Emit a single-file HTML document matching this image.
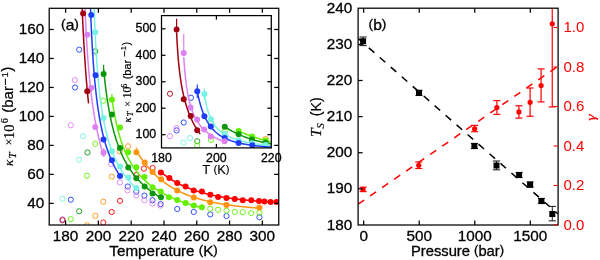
<!DOCTYPE html>
<html><head><meta charset="utf-8"><style>html,body{margin:0;padding:0;background:#fff;width:600px;height:260px;overflow:hidden}svg{display:block;will-change:transform}</style></head><body>
<svg width="600" height="260" viewBox="0 0 600 260">
<defs>
<clipPath id="cm"><rect x="49.20" y="8.30" width="229.55" height="216.70"/></clipPath>
<clipPath id="ci"><rect x="161.50" y="15.60" width="109.80" height="132.30"/></clipPath>
<clipPath id="cb"><rect x="358.10" y="8.20" width="200.00" height="216.80"/></clipPath>
</defs>
<rect width="600" height="260" fill="#fff"/>
<circle cx="79.20" cy="49.70" r="2.60" fill="none" stroke="#1e3cfa" stroke-width="0.90" clip-path="url(#cm)"/>
<circle cx="75.00" cy="87.50" r="2.60" fill="none" stroke="#1e3cfa" stroke-width="0.90" clip-path="url(#cm)"/>
<circle cx="127.80" cy="186.50" r="2.60" fill="none" stroke="#1e3cfa" stroke-width="0.90" clip-path="url(#cm)"/>
<circle cx="136.30" cy="191.70" r="2.60" fill="none" stroke="#1e3cfa" stroke-width="0.90" clip-path="url(#cm)"/>
<circle cx="144.40" cy="195.60" r="2.60" fill="none" stroke="#1e3cfa" stroke-width="0.90" clip-path="url(#cm)"/>
<circle cx="152.50" cy="200.25" r="2.60" fill="none" stroke="#1e3cfa" stroke-width="0.90" clip-path="url(#cm)"/>
<circle cx="160.60" cy="204.00" r="2.60" fill="none" stroke="#1e3cfa" stroke-width="0.90" clip-path="url(#cm)"/>
<circle cx="177.25" cy="209.00" r="2.60" fill="none" stroke="#1e3cfa" stroke-width="0.90" clip-path="url(#cm)"/>
<circle cx="193.75" cy="211.90" r="2.60" fill="none" stroke="#1e3cfa" stroke-width="0.90" clip-path="url(#cm)"/>
<circle cx="210.25" cy="214.40" r="2.60" fill="none" stroke="#1e3cfa" stroke-width="0.90" clip-path="url(#cm)"/>
<circle cx="226.50" cy="216.00" r="2.60" fill="none" stroke="#1e3cfa" stroke-width="0.90" clip-path="url(#cm)"/>
<circle cx="259.40" cy="217.25" r="2.60" fill="none" stroke="#1e3cfa" stroke-width="0.90" clip-path="url(#cm)"/>
<circle cx="70.80" cy="199.70" r="2.60" fill="none" stroke="#1e3cfa" stroke-width="0.90" clip-path="url(#cm)"/>
<circle cx="74.80" cy="80.00" r="2.60" fill="none" stroke="#dd80f2" stroke-width="0.90" clip-path="url(#cm)"/>
<circle cx="70.80" cy="125.30" r="2.60" fill="none" stroke="#dd80f2" stroke-width="0.90" clip-path="url(#cm)"/>
<circle cx="111.25" cy="164.00" r="2.60" fill="none" stroke="#dd80f2" stroke-width="0.90" clip-path="url(#cm)"/>
<circle cx="119.90" cy="182.40" r="2.60" fill="none" stroke="#dd80f2" stroke-width="0.90" clip-path="url(#cm)"/>
<circle cx="127.50" cy="190.30" r="2.60" fill="none" stroke="#dd80f2" stroke-width="0.90" clip-path="url(#cm)"/>
<circle cx="136.30" cy="195.30" r="2.60" fill="none" stroke="#dd80f2" stroke-width="0.90" clip-path="url(#cm)"/>
<circle cx="144.40" cy="200.25" r="2.60" fill="none" stroke="#dd80f2" stroke-width="0.90" clip-path="url(#cm)"/>
<circle cx="152.50" cy="203.50" r="2.60" fill="none" stroke="#dd80f2" stroke-width="0.90" clip-path="url(#cm)"/>
<circle cx="160.60" cy="205.60" r="2.60" fill="none" stroke="#dd80f2" stroke-width="0.90" clip-path="url(#cm)"/>
<circle cx="62.50" cy="219.20" r="2.60" fill="none" stroke="#dd80f2" stroke-width="0.90" clip-path="url(#cm)"/>
<circle cx="83.00" cy="136.20" r="2.60" fill="none" stroke="#78f2e2" stroke-width="0.90" clip-path="url(#cm)"/>
<circle cx="79.10" cy="159.70" r="2.60" fill="none" stroke="#78f2e2" stroke-width="0.90" clip-path="url(#cm)"/>
<circle cx="62.50" cy="198.70" r="2.60" fill="none" stroke="#78f2e2" stroke-width="0.90" clip-path="url(#cm)"/>
<circle cx="103.30" cy="100.80" r="2.60" fill="none" stroke="#62f000" stroke-width="0.90" clip-path="url(#cm)"/>
<circle cx="95.30" cy="143.80" r="2.60" fill="none" stroke="#62f000" stroke-width="0.90" clip-path="url(#cm)"/>
<circle cx="87.00" cy="175.70" r="2.60" fill="none" stroke="#62f000" stroke-width="0.90" clip-path="url(#cm)"/>
<circle cx="70.80" cy="219.20" r="2.60" fill="none" stroke="#62f000" stroke-width="0.90" clip-path="url(#cm)"/>
<circle cx="210.25" cy="208.75" r="2.60" fill="none" stroke="#62f000" stroke-width="0.90" clip-path="url(#cm)"/>
<circle cx="218.10" cy="209.75" r="2.60" fill="none" stroke="#62f000" stroke-width="0.90" clip-path="url(#cm)"/>
<circle cx="226.50" cy="210.60" r="2.60" fill="none" stroke="#62f000" stroke-width="0.90" clip-path="url(#cm)"/>
<circle cx="234.75" cy="211.90" r="2.60" fill="none" stroke="#62f000" stroke-width="0.90" clip-path="url(#cm)"/>
<circle cx="242.75" cy="212.25" r="2.60" fill="none" stroke="#62f000" stroke-width="0.90" clip-path="url(#cm)"/>
<circle cx="251.25" cy="213.10" r="2.60" fill="none" stroke="#62f000" stroke-width="0.90" clip-path="url(#cm)"/>
<circle cx="259.40" cy="212.75" r="2.60" fill="none" stroke="#62f000" stroke-width="0.90" clip-path="url(#cm)"/>
<circle cx="95.30" cy="51.30" r="2.60" fill="none" stroke="#0c960c" stroke-width="0.90" clip-path="url(#cm)"/>
<circle cx="87.50" cy="152.50" r="2.60" fill="none" stroke="#0c960c" stroke-width="0.90" clip-path="url(#cm)"/>
<circle cx="79.20" cy="211.30" r="2.60" fill="none" stroke="#0c960c" stroke-width="0.90" clip-path="url(#cm)"/>
<circle cx="128.00" cy="146.30" r="2.60" fill="none" stroke="#ff930f" stroke-width="0.90" clip-path="url(#cm)"/>
<circle cx="119.70" cy="151.30" r="2.60" fill="none" stroke="#ff930f" stroke-width="0.90" clip-path="url(#cm)"/>
<circle cx="111.80" cy="176.60" r="2.60" fill="none" stroke="#ff930f" stroke-width="0.90" clip-path="url(#cm)"/>
<circle cx="103.30" cy="201.70" r="2.60" fill="none" stroke="#ff930f" stroke-width="0.90" clip-path="url(#cm)"/>
<circle cx="95.30" cy="215.80" r="2.60" fill="none" stroke="#ff930f" stroke-width="0.90" clip-path="url(#cm)"/>
<circle cx="87.00" cy="225.30" r="2.60" fill="none" stroke="#ff930f" stroke-width="0.90" clip-path="url(#cm)"/>
<circle cx="143.90" cy="168.60" r="2.60" fill="none" stroke="#ff0000" stroke-width="0.90" clip-path="url(#cm)"/>
<circle cx="152.60" cy="168.00" r="2.60" fill="none" stroke="#ff0000" stroke-width="0.90" clip-path="url(#cm)"/>
<circle cx="136.30" cy="175.00" r="2.60" fill="none" stroke="#ff0000" stroke-width="0.90" clip-path="url(#cm)"/>
<circle cx="120.00" cy="200.80" r="2.60" fill="none" stroke="#ff0000" stroke-width="0.90" clip-path="url(#cm)"/>
<circle cx="111.70" cy="212.00" r="2.60" fill="none" stroke="#ff0000" stroke-width="0.90" clip-path="url(#cm)"/>
<circle cx="103.30" cy="222.50" r="2.60" fill="none" stroke="#ff0000" stroke-width="0.90" clip-path="url(#cm)"/>
<circle cx="62.50" cy="220.20" r="2.60" fill="none" stroke="#a0000f" stroke-width="0.90" clip-path="url(#cm)"/>
<path d="M160.90,172.03 L161.50,172.53 L162.09,173.01 L162.69,173.49 L163.29,173.96 L163.89,174.43 L164.48,174.88 L165.08,175.33 L165.68,175.77 L166.28,176.20 L166.87,176.63 L167.47,177.04 L168.07,177.45 L168.67,177.86 L169.26,178.26 L169.86,178.65 L170.46,179.03 L171.06,179.41 L171.65,179.78 L172.25,180.15 L172.85,180.51 L173.45,180.86 L174.04,181.21 L174.64,181.55 L175.24,181.89 L175.84,182.22 L176.43,182.55 L177.03,182.87 L177.63,183.19 L178.23,183.50 L178.82,183.80 L179.42,184.10 L180.02,184.40 L180.62,184.69 L181.21,184.98 L181.81,185.26 L182.41,185.54 L183.01,185.81 L183.60,186.08 L184.20,186.34 L184.80,186.60 L185.40,186.86 L185.99,187.11 L186.59,187.36 L187.19,187.61 L187.79,187.85 L188.38,188.08 L188.98,188.32 L189.58,188.55 L190.17,188.77 L190.77,189.00 L191.37,189.21 L191.97,189.43 L192.56,189.64 L193.16,189.85 L193.76,190.06 L194.36,190.26 L194.95,190.46 L195.55,190.66 L196.15,190.85 L196.75,191.04 L197.34,191.23 L197.94,191.41 L198.54,191.60 L199.14,191.77 L199.73,191.95 L200.33,192.13 L200.93,192.30 L201.53,192.47 L202.12,192.63 L202.72,192.80 L203.32,192.96 L203.92,193.12 L204.51,193.27 L205.11,193.43 L205.71,193.58 L206.31,193.73 L206.90,193.87 L207.50,194.02 L208.10,194.16 L208.70,194.30 L209.29,194.44 L209.89,194.58 L210.49,194.71 L211.09,194.85 L211.68,194.98 L212.28,195.11 L212.88,195.23 L213.48,195.36 L214.07,195.48 L214.67,195.61 L215.27,195.73 L215.87,195.84 L216.46,195.96 L217.06,196.07 L217.66,196.19 L218.26,196.30 L218.85,196.41 L219.45,196.52 L220.05,196.62 L220.64,196.73 L221.24,196.83 L221.84,196.94 L222.44,197.04 L223.03,197.14 L223.63,197.23 L224.23,197.33 L224.83,197.43 L225.42,197.52 L226.02,197.61 L226.62,197.70 L227.22,197.79 L227.81,197.88 L228.41,197.97 L229.01,198.06 L229.61,198.14 L230.20,198.23 L230.80,198.31 L231.40,198.39 L232.00,198.47 L232.59,198.55 L233.19,198.63 L233.79,198.71 L234.39,198.78 L234.98,198.86 L235.58,198.93 L236.18,199.00 L236.78,199.08 L237.37,199.15 L237.97,199.22 L238.57,199.29 L239.17,199.36 L239.76,199.42 L240.36,199.49 L240.96,199.55 L241.56,199.62 L242.15,199.68 L242.75,199.75 L243.35,199.81 L243.95,199.87 L244.54,199.93 L245.14,199.99 L245.74,200.05 L246.34,200.11 L246.93,200.16 L247.53,200.22 L248.13,200.28 L249.02,200.36 L249.92,200.44 L250.82,200.52 L251.71,200.59 L252.61,200.67 L253.50,200.75 L254.40,200.82 L255.30,200.89 L256.19,200.96 L257.09,201.03 L257.99,201.10 L258.88,201.16 L259.78,201.23 L260.67,201.29 L261.57,201.35 L262.47,201.41 L263.36,201.47 L264.26,201.53 L265.15,201.59 L266.05,201.65 L266.95,201.70 L267.84,201.76 L268.74,201.81 L269.64,201.86 L270.53,201.92 L271.43,201.97 L272.32,202.02 L273.22,202.06 L274.12,202.11 L275.01,202.16 L275.91,202.21 L276.80,202.25 L277.70,202.29 L278.60,202.34 L279.49,202.38 L280.39,202.42" fill="none" stroke="#ff0000" stroke-width="1.50" stroke-linejoin="round" clip-path="url(#cm)"/>
<circle cx="160.90" cy="172.40" r="3.00" fill="#ff0000" clip-path="url(#cm)"/>
<circle cx="169.40" cy="178.10" r="3.00" fill="#ff0000" clip-path="url(#cm)"/>
<circle cx="177.25" cy="183.10" r="3.00" fill="#ff0000" clip-path="url(#cm)"/>
<circle cx="185.60" cy="186.50" r="3.00" fill="#ff0000" clip-path="url(#cm)"/>
<circle cx="193.75" cy="190.40" r="3.00" fill="#ff0000" clip-path="url(#cm)"/>
<circle cx="201.90" cy="191.60" r="3.00" fill="#ff0000" clip-path="url(#cm)"/>
<circle cx="210.30" cy="194.70" r="3.00" fill="#ff0000" clip-path="url(#cm)"/>
<circle cx="218.10" cy="196.90" r="3.00" fill="#ff0000" clip-path="url(#cm)"/>
<circle cx="226.50" cy="198.10" r="3.00" fill="#ff0000" clip-path="url(#cm)"/>
<circle cx="234.75" cy="199.00" r="3.00" fill="#ff0000" clip-path="url(#cm)"/>
<circle cx="242.75" cy="200.25" r="3.00" fill="#ff0000" clip-path="url(#cm)"/>
<circle cx="251.25" cy="200.25" r="3.00" fill="#ff0000" clip-path="url(#cm)"/>
<circle cx="259.00" cy="201.00" r="3.00" fill="#ff0000" clip-path="url(#cm)"/>
<circle cx="264.40" cy="201.50" r="3.00" fill="#ff0000" clip-path="url(#cm)"/>
<circle cx="270.60" cy="201.90" r="3.00" fill="#ff0000" clip-path="url(#cm)"/>
<circle cx="276.50" cy="201.90" r="3.00" fill="#ff0000" clip-path="url(#cm)"/>
<path d="M136.40,150.91 L137.01,151.93 L137.63,152.92 L138.25,153.90 L138.86,154.86 L139.47,155.80 L140.09,156.72 L140.70,157.63 L141.32,158.52 L141.93,159.39 L142.55,160.25 L143.17,161.09 L143.78,161.91 L144.40,162.72 L145.01,163.52 L145.62,164.30 L146.24,165.07 L146.86,165.82 L147.47,166.56 L148.08,167.28 L148.70,168.00 L149.32,168.70 L149.93,169.39 L150.55,170.06 L151.16,170.72 L151.78,171.37 L152.39,172.01 L153.00,172.64 L153.62,173.26 L154.24,173.87 L154.85,174.46 L155.46,175.05 L156.08,175.62 L156.70,176.19 L157.31,176.74 L157.93,177.29 L158.54,177.82 L159.16,178.35 L159.77,178.86 L160.39,179.37 L161.00,179.87 L161.62,180.36 L162.23,180.84 L162.85,181.32 L163.46,181.78 L164.07,182.24 L164.69,182.69 L165.31,183.13 L165.92,183.57 L166.53,183.99 L167.15,184.41 L167.77,184.83 L168.38,185.23 L169.00,185.63 L169.61,186.02 L170.23,186.41 L170.84,186.79 L171.46,187.16 L172.07,187.53 L172.69,187.89 L173.30,188.24 L173.91,188.59 L174.53,188.93 L175.15,189.27 L175.76,189.60 L176.38,189.93 L176.99,190.25 L177.61,190.56 L178.22,190.88 L178.84,191.18 L179.45,191.48 L180.06,191.78 L180.68,192.07 L181.30,192.35 L181.91,192.63 L182.52,192.91 L183.14,193.18 L183.76,193.45 L184.37,193.71 L184.99,193.97 L185.60,194.23 L186.22,194.48 L186.83,194.72 L187.44,194.97 L188.06,195.21 L188.68,195.44 L189.29,195.67 L189.91,195.90 L190.52,196.12 L191.14,196.35 L191.75,196.56 L192.37,196.78 L192.98,196.99 L193.59,197.19 L194.21,197.40 L194.83,197.60 L195.44,197.80 L196.06,197.99 L196.67,198.18 L197.28,198.37 L197.90,198.56 L198.52,198.74 L199.13,198.92 L199.75,199.10 L200.36,199.27 L200.98,199.44 L201.59,199.61 L202.20,199.78 L202.82,199.94 L203.44,200.10 L204.05,200.26 L204.67,200.42 L205.28,200.57 L205.90,200.72 L206.51,200.87 L207.13,201.02 L207.74,201.17 L208.36,201.31 L208.97,201.45 L209.59,201.59 L210.20,201.73 L210.81,201.86 L211.43,201.99 L212.05,202.12 L212.66,202.25 L213.28,202.38 L213.89,202.50 L214.51,202.63 L215.12,202.75 L215.74,202.87 L216.35,202.98 L216.97,203.10 L217.58,203.21 L218.20,203.33 L218.81,203.44 L219.43,203.55 L220.04,203.66 L220.65,203.76 L221.27,203.87 L221.89,203.97 L222.50,204.07 L223.12,204.17 L223.73,204.27 L224.35,204.37 L224.96,204.46 L225.58,204.56 L226.19,204.65 L226.81,204.74 L227.42,204.83 L228.04,204.92 L228.65,205.01 L229.26,205.10 L229.88,205.18 L230.50,205.27 L231.11,205.35 L231.73,205.43 L232.34,205.51 L232.96,205.59 L233.57,205.67 L234.19,205.75 L234.80,205.82 L235.42,205.90 L236.03,205.97 L236.65,206.05 L237.26,206.12 L237.88,206.19 L238.49,206.26 L239.11,206.33 L239.72,206.40 L240.34,206.46 L240.95,206.53 L241.57,206.60 L242.18,206.66 L242.80,206.72 L243.41,206.79 L244.03,206.85 L244.64,206.91 L245.26,206.97 L245.87,207.03 L246.49,207.09 L247.10,207.15 L247.72,207.20 L248.33,207.26 L248.95,207.31 L249.56,207.37 L250.18,207.42 L250.79,207.48 L251.41,207.53 L252.02,207.58 L252.64,207.63 L253.25,207.68 L253.87,207.73 L254.48,207.78 L255.10,207.83 L255.71,207.88 L256.33,207.93 L256.94,207.97 L257.56,208.02 L258.17,208.06 L258.79,208.11 L259.40,208.15" fill="none" stroke="#ff930f" stroke-width="1.50" stroke-linejoin="round" clip-path="url(#cm)"/>
<line x1="136.40" y1="147.50" x2="136.40" y2="152.30" stroke="#ff930f" stroke-width="1.20" clip-path="url(#cm)"/>
<circle cx="136.40" cy="152.30" r="3.00" fill="#ff930f" clip-path="url(#cm)"/>
<circle cx="144.70" cy="162.40" r="3.00" fill="#ff930f" clip-path="url(#cm)"/>
<circle cx="152.60" cy="172.00" r="3.00" fill="#ff930f" clip-path="url(#cm)"/>
<circle cx="161.20" cy="179.30" r="3.00" fill="#ff930f" clip-path="url(#cm)"/>
<circle cx="177.25" cy="190.50" r="3.00" fill="#ff930f" clip-path="url(#cm)"/>
<circle cx="193.75" cy="197.50" r="3.00" fill="#ff930f" clip-path="url(#cm)"/>
<circle cx="210.25" cy="202.25" r="3.00" fill="#ff930f" clip-path="url(#cm)"/>
<circle cx="226.50" cy="205.00" r="3.00" fill="#ff930f" clip-path="url(#cm)"/>
<circle cx="259.40" cy="207.50" r="3.00" fill="#ff930f" clip-path="url(#cm)"/>
<path d="M111.90,98.18 L112.12,99.78 L112.35,101.33 L112.58,102.84 L112.80,104.31 L113.03,105.75 L113.25,107.15 L113.48,108.51 L113.70,109.84 L113.93,111.14 L114.15,112.41 L114.38,113.64 L114.60,114.85 L114.83,116.03 L115.05,117.19 L115.28,118.31 L115.50,119.42 L115.73,120.50 L115.95,121.55 L116.18,122.59 L116.40,123.60 L116.63,124.59 L116.85,125.57 L117.08,126.52 L117.30,127.45 L117.53,128.37 L117.75,129.27 L117.97,130.15 L118.20,131.01 L118.43,131.86 L118.65,132.69 L118.87,133.51 L119.10,134.31 L119.33,135.10 L119.55,135.87 L119.77,136.63 L120.00,137.38 L120.23,138.12 L120.45,138.84 L120.67,139.55 L120.90,140.25 L121.13,140.93 L121.35,141.61 L121.57,142.28 L121.80,142.93 L122.03,143.57 L122.25,144.21 L122.47,144.83 L122.70,145.45 L122.93,146.05 L123.15,146.65 L123.38,147.24 L123.60,147.82 L123.83,148.39 L124.05,148.95 L124.50,150.05 L124.95,151.12 L125.40,152.16 L125.85,153.17 L126.30,154.16 L126.75,155.12 L127.20,156.05 L127.65,156.96 L128.10,157.85 L128.55,158.72 L129.00,159.56 L129.45,160.39 L129.90,161.20 L130.35,161.98 L130.80,162.75 L131.25,163.50 L131.70,164.24 L132.15,164.96 L132.60,165.66 L133.05,166.35 L133.50,167.02 L133.95,167.68 L134.40,168.33 L134.85,168.96 L135.30,169.58 L135.75,170.19 L136.20,170.79 L136.65,171.38 L137.10,171.95 L137.55,172.51 L138.00,173.06 L138.45,173.61 L138.90,174.14 L139.35,174.66 L139.80,175.18 L140.25,175.68 L140.70,176.18 L141.15,176.66 L141.60,177.14 L142.05,177.61 L142.50,178.08 L142.95,178.53 L143.40,178.98 L143.85,179.42 L144.30,179.85 L144.75,180.28 L145.20,180.70 L145.65,181.11 L146.10,181.52 L146.55,181.92 L147.23,182.51 L147.90,183.09 L148.57,183.65 L149.25,184.20 L149.92,184.74 L150.60,185.27 L151.27,185.79 L151.95,186.30 L152.62,186.79 L153.30,187.28 L153.97,187.76 L154.65,188.22 L155.32,188.68 L156.00,189.13 L156.68,189.57 L157.35,190.01 L158.02,190.43 L158.70,190.85 L159.38,191.26 L160.05,191.66 L160.72,192.06 L161.40,192.44 L162.07,192.83 L162.75,193.20 L163.42,193.57 L164.10,193.93 L164.77,194.29 L165.45,194.64 L166.12,194.98 L166.80,195.32 L167.47,195.66 L168.15,195.99 L168.82,196.31 L169.50,196.63 L170.17,196.94 L170.85,197.25 L171.53,197.56 L172.20,197.85 L172.88,198.15 L173.55,198.44 L174.22,198.73 L174.90,199.01 L175.57,199.29 L176.25,199.56 L176.92,199.83 L177.60,200.10 L178.27,200.36 L178.95,200.62 L179.62,200.88 L180.30,201.13 L180.97,201.38 L181.65,201.63 L182.32,201.87 L183.00,202.11 L183.68,202.35 L184.35,202.58 L185.02,202.81 L185.70,203.04 L186.38,203.27 L187.05,203.49 L187.72,203.71 L188.40,203.92 L189.07,204.14 L189.75,204.35 L190.43,204.56 L191.10,204.77 L191.78,204.97 L192.45,205.17 L193.12,205.37 L193.80,205.57 L194.47,205.76 L195.15,205.96 L195.82,206.15 L196.50,206.33 L197.18,206.52 L197.85,206.71 L198.52,206.89 L199.20,207.07 L199.88,207.25 L200.55,207.42 L201.23,207.60 L201.90,207.77" fill="none" stroke="#62f000" stroke-width="1.50" stroke-linejoin="round" clip-path="url(#cm)"/>
<line x1="111.90" y1="94.00" x2="111.90" y2="99.75" stroke="#62f000" stroke-width="1.20" clip-path="url(#cm)"/>
<circle cx="111.90" cy="99.75" r="3.00" fill="#62f000" clip-path="url(#cm)"/>
<circle cx="120.00" cy="127.50" r="3.00" fill="#62f000" clip-path="url(#cm)"/>
<circle cx="128.10" cy="152.30" r="3.00" fill="#62f000" clip-path="url(#cm)"/>
<circle cx="136.25" cy="167.20" r="3.00" fill="#62f000" clip-path="url(#cm)"/>
<circle cx="144.50" cy="177.10" r="3.00" fill="#62f000" clip-path="url(#cm)"/>
<circle cx="152.50" cy="187.25" r="3.00" fill="#62f000" clip-path="url(#cm)"/>
<circle cx="160.70" cy="191.60" r="3.00" fill="#62f000" clip-path="url(#cm)"/>
<circle cx="169.00" cy="197.25" r="3.00" fill="#62f000" clip-path="url(#cm)"/>
<circle cx="177.25" cy="200.00" r="3.00" fill="#62f000" clip-path="url(#cm)"/>
<circle cx="185.60" cy="203.10" r="3.00" fill="#62f000" clip-path="url(#cm)"/>
<circle cx="193.75" cy="205.60" r="3.00" fill="#62f000" clip-path="url(#cm)"/>
<circle cx="201.90" cy="207.25" r="3.00" fill="#62f000" clip-path="url(#cm)"/>
<path d="M103.60,68.96 L103.74,70.44 L103.89,71.90 L104.03,73.33 L104.17,74.73 L104.32,76.10 L104.46,77.44 L104.60,78.76 L104.75,80.06 L104.89,81.33 L105.03,82.58 L105.18,83.80 L105.32,85.00 L105.47,86.18 L105.61,87.34 L105.75,88.48 L105.90,89.61 L106.04,90.71 L106.18,91.79 L106.33,92.85 L106.47,93.90 L106.61,94.93 L106.76,95.94 L106.90,96.94 L107.04,97.92 L107.19,98.89 L107.33,99.84 L107.47,100.78 L107.62,101.70 L107.76,102.61 L107.90,103.50 L108.05,104.38 L108.19,105.25 L108.34,106.11 L108.48,106.95 L108.62,107.78 L108.77,108.60 L108.91,109.41 L109.05,110.21 L109.20,110.99 L109.34,111.77 L109.48,112.53 L109.63,113.29 L109.77,114.03 L109.91,114.77 L110.06,115.49 L110.20,116.21 L110.34,116.91 L110.49,117.61 L110.63,118.30 L110.77,118.98 L110.92,119.65 L111.06,120.31 L111.21,120.97 L111.35,121.62 L111.49,122.25 L111.64,122.89 L111.78,123.51 L111.92,124.13 L112.07,124.74 L112.21,125.34 L112.35,125.93 L112.50,126.52 L112.78,127.68 L113.07,128.81 L113.36,129.92 L113.64,131.00 L113.93,132.06 L114.22,133.09 L114.51,134.11 L114.79,135.10 L115.08,136.08 L115.37,137.03 L115.65,137.97 L115.94,138.88 L116.23,139.78 L116.52,140.67 L116.80,141.53 L117.09,142.38 L117.38,143.21 L117.66,144.03 L117.95,144.84 L118.24,145.63 L118.52,146.40 L118.81,147.16 L119.10,147.91 L119.38,148.65 L119.67,149.37 L119.96,150.08 L120.25,150.78 L120.53,151.47 L120.82,152.15 L121.11,152.82 L121.39,153.47 L121.68,154.12 L121.97,154.75 L122.25,155.38 L122.54,156.00 L122.83,156.60 L123.12,157.20 L123.40,157.79 L123.69,158.37 L123.98,158.94 L124.26,159.51 L124.55,160.06 L124.84,160.61 L125.12,161.15 L125.41,161.68 L125.84,162.47 L126.27,163.24 L126.70,163.99 L127.13,164.73 L127.56,165.45 L127.99,166.17 L128.43,166.86 L128.86,167.55 L129.29,168.22 L129.72,168.88 L130.15,169.52 L130.58,170.16 L131.01,170.78 L131.44,171.39 L131.87,172.00 L132.30,172.59 L132.73,173.17 L133.16,173.74 L133.59,174.30 L134.02,174.86 L134.45,175.40 L134.88,175.94 L135.31,176.46 L135.74,176.98 L136.17,177.49 L136.60,177.99 L137.04,178.49 L137.47,178.97 L137.90,179.45 L138.33,179.93 L138.76,180.39 L139.19,180.85 L139.62,181.30 L140.05,181.75 L140.48,182.19 L140.91,182.62 L141.34,183.05 L141.77,183.47 L142.34,184.02 L142.92,184.56 L143.49,185.09 L144.07,185.62 L144.64,186.13 L145.21,186.63 L145.79,187.13 L146.36,187.62 L146.94,188.10 L147.51,188.57 L148.08,189.03 L148.66,189.49 L149.23,189.94 L149.81,190.38 L150.38,190.82 L150.95,191.24 L151.53,191.67 L152.10,192.08 L152.68,192.49 L153.25,192.89 L153.82,193.29 L154.40,193.68 L154.97,194.06 L155.55,194.44 L156.12,194.82 L156.69,195.19 L157.27,195.55 L157.84,195.91 L158.42,196.26 L158.99,196.61 L159.56,196.96 L160.14,197.29 L160.71,197.63 L161.00,197.79" fill="none" stroke="#0c960c" stroke-width="1.50" stroke-linejoin="round" clip-path="url(#cm)"/>
<line x1="103.60" y1="64.70" x2="103.60" y2="74.10" stroke="#0c960c" stroke-width="1.20" clip-path="url(#cm)"/>
<circle cx="103.60" cy="74.10" r="3.00" fill="#0c960c" clip-path="url(#cm)"/>
<circle cx="111.90" cy="114.50" r="3.00" fill="#0c960c" clip-path="url(#cm)"/>
<circle cx="120.00" cy="148.10" r="3.00" fill="#0c960c" clip-path="url(#cm)"/>
<circle cx="128.30" cy="167.50" r="3.00" fill="#0c960c" clip-path="url(#cm)"/>
<circle cx="136.30" cy="178.20" r="3.00" fill="#0c960c" clip-path="url(#cm)"/>
<circle cx="144.70" cy="186.60" r="3.00" fill="#0c960c" clip-path="url(#cm)"/>
<circle cx="152.50" cy="193.60" r="3.00" fill="#0c960c" clip-path="url(#cm)"/>
<circle cx="161.00" cy="197.20" r="3.00" fill="#0c960c" clip-path="url(#cm)"/>
<path d="M81.99,-50.00 L82.67,-50.00 L83.35,-50.00 L84.03,-50.00 L84.71,-50.00 L85.39,-50.00 L86.07,-50.00 L86.74,-50.00 L87.42,-50.00 L88.10,-50.00 L88.78,-50.00 L89.46,-50.00 L90.14,-50.00 L90.82,-50.00 L91.50,-50.00 L92.18,-50.00 L92.85,-45.39 L92.99,-38.33 L93.13,-31.76 L93.26,-25.62 L93.40,-19.86 L93.53,-14.44 L93.67,-9.34 L93.80,-4.51 L93.94,0.05 L94.08,4.39 L94.21,8.51 L94.35,12.44 L94.48,16.18 L94.62,19.76 L94.76,23.18 L94.89,26.46 L95.03,29.61 L95.16,32.63 L95.30,35.53 L95.43,38.33 L95.57,41.02 L95.71,43.62 L95.84,46.12 L95.98,48.54 L96.11,50.89 L96.25,53.15 L96.38,55.35 L96.52,57.47 L96.66,59.53 L96.79,61.53 L96.93,63.48 L97.06,65.36 L97.20,67.20 L97.33,68.98 L97.47,70.72 L97.61,72.41 L97.74,74.06 L97.88,75.66 L98.01,77.23 L98.15,78.75 L98.28,80.24 L98.42,81.70 L98.56,83.12 L98.69,84.51 L98.83,85.87 L98.96,87.19 L99.10,88.49 L99.24,89.76 L99.37,91.00 L99.51,92.22 L99.64,93.41 L99.78,94.58 L99.91,95.72 L100.05,96.85 L100.19,97.95 L100.32,99.03 L100.46,100.08 L100.59,101.12 L100.73,102.14 L100.86,103.14 L101.00,104.13 L101.14,105.09 L101.27,106.04 L101.41,106.97 L101.54,107.89 L101.68,108.79 L101.81,109.68 L101.95,110.55 L102.09,111.40 L102.22,112.25 L102.36,113.08 L102.49,113.89 L102.63,114.70 L102.77,115.49 L102.90,116.27 L103.04,117.04 L103.17,117.79 L103.31,118.54 L103.44,119.27 L103.58,120.00 L103.72,120.71 L103.85,121.41 L103.99,122.11 L104.12,122.79 L104.26,123.46 L104.39,124.13 L104.53,124.78 L104.67,125.43 L104.80,126.07 L104.94,126.70 L105.07,127.32 L105.21,127.94 L105.34,128.54 L105.48,129.14 L105.62,129.73 L105.89,130.89 L106.16,132.02 L106.43,133.13 L106.70,134.21 L106.97,135.26 L107.25,136.29 L107.52,137.30 L107.79,138.28 L108.06,139.25 L108.33,140.19 L108.60,141.11 L108.87,142.02 L109.15,142.90 L109.42,143.77 L109.69,144.62 L109.96,145.46 L110.23,146.27 L110.50,147.07 L110.78,147.86 L111.05,148.63 L111.32,149.39 L111.59,150.14 L111.86,150.87 L112.13,151.59 L112.40,152.29 L112.68,152.99 L112.95,153.67 L113.22,154.34 L113.49,155.00 L113.76,155.65 L114.03,156.29 L114.31,156.91 L114.58,157.53 L114.85,158.14 L115.12,158.74 L115.39,159.33 L115.66,159.91 L115.93,160.48 L116.21,161.04 L116.48,161.60 L116.75,162.15 L117.02,162.68 L117.43,163.48 L117.84,164.26 L118.24,165.02 L118.65,165.77 L119.06,166.50 L119.46,167.21 L119.87,167.92 L120.28,168.60 L120.69,169.28 L121.09,169.94 L121.50,170.60 L121.91,171.23 L122.32,171.86 L122.72,172.48 L123.13,173.08 L123.54,173.68 L123.95,174.26 L124.35,174.84 L124.76,175.41 L125.17,175.96 L125.57,176.51 L125.98,177.05 L126.39,177.58 L126.80,178.10 L127.20,178.61 L127.61,179.11 L128.02,179.61 L128.43,180.10 L128.83,180.58 L129.24,181.06 L129.65,181.53 L130.05,181.99 L130.46,182.44 L130.87,182.89 L131.28,183.33 L131.82,183.91 L132.36,184.48 L132.91,185.04 L133.45,185.59 L133.99,186.13 L134.54,186.66 L135.08,187.18 L135.62,187.69 L136.16,188.20 L136.30,188.32" fill="none" stroke="#78f2e2" stroke-width="1.50" stroke-linejoin="round" clip-path="url(#cm)"/>
<circle cx="95.25" cy="32.30" r="3.00" fill="#78f2e2" clip-path="url(#cm)"/>
<circle cx="103.60" cy="117.90" r="3.00" fill="#78f2e2" clip-path="url(#cm)"/>
<circle cx="111.90" cy="151.20" r="3.00" fill="#78f2e2" clip-path="url(#cm)"/>
<circle cx="120.10" cy="166.40" r="3.00" fill="#78f2e2" clip-path="url(#cm)"/>
<circle cx="128.40" cy="177.40" r="3.00" fill="#78f2e2" clip-path="url(#cm)"/>
<circle cx="136.30" cy="188.00" r="3.00" fill="#78f2e2" clip-path="url(#cm)"/>
<path d="M79.53,-50.00 L80.14,-50.00 L80.75,-50.00 L81.35,-50.00 L81.96,-50.00 L82.57,-50.00 L83.18,-50.00 L83.78,-50.00 L84.39,-50.00 L85.00,-50.00 L85.60,-50.00 L86.21,-50.00 L86.82,-50.00 L87.42,-50.00 L88.03,-50.00 L88.64,-50.00 L88.94,-47.99 L89.04,-43.23 L89.14,-38.68 L89.25,-34.31 L89.35,-30.12 L89.45,-26.08 L89.55,-22.21 L89.65,-18.47 L89.75,-14.87 L89.85,-11.40 L89.95,-8.04 L90.05,-4.80 L90.16,-1.66 L90.26,1.37 L90.36,4.31 L90.46,7.16 L90.56,9.92 L90.66,12.60 L90.76,15.20 L90.86,17.72 L90.97,20.18 L91.07,22.57 L91.17,24.89 L91.27,27.15 L91.37,29.35 L91.47,31.50 L91.57,33.59 L91.67,35.63 L91.77,37.62 L91.88,39.56 L91.98,41.46 L92.08,43.31 L92.18,45.12 L92.28,46.89 L92.38,48.61 L92.48,50.31 L92.58,51.96 L92.69,53.58 L92.79,55.16 L92.89,56.71 L92.99,58.23 L93.09,59.72 L93.19,61.18 L93.29,62.61 L93.39,64.01 L93.49,65.39 L93.60,66.74 L93.70,68.06 L93.80,69.36 L93.90,70.64 L94.00,71.89 L94.10,73.12 L94.20,74.33 L94.30,75.51 L94.40,76.68 L94.51,77.83 L94.61,78.96 L94.71,80.06 L94.81,81.15 L94.91,82.23 L95.01,83.28 L95.11,84.32 L95.21,85.34 L95.32,86.35 L95.42,87.34 L95.52,88.31 L95.62,89.27 L95.72,90.22 L95.82,91.15 L95.92,92.07 L96.02,92.97 L96.12,93.87 L96.23,94.74 L96.33,95.61 L96.43,96.46 L96.53,97.31 L96.63,98.14 L96.73,98.96 L96.83,99.76 L96.93,100.56 L97.04,101.35 L97.14,102.12 L97.24,102.89 L97.34,103.65 L97.44,104.39 L97.54,105.13 L97.64,105.86 L97.74,106.57 L97.84,107.28 L97.95,107.98 L98.05,108.68 L98.15,109.36 L98.25,110.03 L98.35,110.70 L98.45,111.36 L98.55,112.01 L98.65,112.66 L98.76,113.29 L98.86,113.92 L98.96,114.54 L99.06,115.16 L99.16,115.77 L99.26,116.37 L99.36,116.96 L99.56,118.13 L99.77,119.27 L99.97,120.39 L100.17,121.49 L100.37,122.56 L100.58,123.61 L100.78,124.64 L100.98,125.65 L101.18,126.64 L101.39,127.61 L101.59,128.56 L101.79,129.50 L101.99,130.41 L102.19,131.31 L102.40,132.20 L102.60,133.06 L102.80,133.92 L103.00,134.75 L103.21,135.57 L103.41,136.38 L103.61,137.18 L103.81,137.96 L104.02,138.72 L104.22,139.48 L104.42,140.22 L104.62,140.95 L104.83,141.67 L105.03,142.38 L105.23,143.08 L105.43,143.76 L105.63,144.44 L105.84,145.10 L106.04,145.76 L106.24,146.40 L106.44,147.04 L106.65,147.67 L106.85,148.28 L107.05,148.89 L107.25,149.49 L107.46,150.08 L107.66,150.67 L107.86,151.24 L108.06,151.81 L108.37,152.65 L108.67,153.47 L108.97,154.27 L109.28,155.06 L109.58,155.83 L109.88,156.59 L110.19,157.34 L110.49,158.07 L110.79,158.78 L111.10,159.49 L111.40,160.18 L111.70,160.86 L112.01,161.53 L112.31,162.18 L112.61,162.83 L112.92,163.46 L113.22,164.08 L113.53,164.70 L113.83,165.30 L114.13,165.89 L114.44,166.48 L114.74,167.05 L115.04,167.62 L115.35,168.17 L115.65,168.72 L115.95,169.26 L116.26,169.79 L116.56,170.32 L116.97,171.00 L117.37,171.68 L117.77,172.34 L118.18,172.98 L118.58,173.62 L118.99,174.24 L119.39,174.86 L119.80,175.46 L120.00,175.75" fill="none" stroke="#1e3cfa" stroke-width="1.50" stroke-linejoin="round" clip-path="url(#cm)"/>
<circle cx="91.25" cy="15.00" r="3.00" fill="#1e3cfa" clip-path="url(#cm)"/>
<circle cx="95.60" cy="75.20" r="3.00" fill="#1e3cfa" clip-path="url(#cm)"/>
<circle cx="103.50" cy="139.40" r="3.00" fill="#1e3cfa" clip-path="url(#cm)"/>
<circle cx="111.90" cy="160.20" r="3.00" fill="#1e3cfa" clip-path="url(#cm)"/>
<circle cx="120.00" cy="176.00" r="3.00" fill="#1e3cfa" clip-path="url(#cm)"/>
<path d="M73.79,-50.00 L74.46,-50.00 L75.13,-50.00 L75.80,-50.00 L76.47,-50.00 L77.14,-50.00 L77.80,-50.00 L78.47,-50.00 L79.14,-50.00 L79.81,-50.00 L80.48,-50.00 L81.15,-50.00 L81.82,-50.00 L82.48,-50.00 L83.15,-50.00 L83.37,-47.94 L83.45,-44.48 L83.52,-41.14 L83.60,-37.93 L83.67,-34.82 L83.75,-31.82 L83.82,-28.91 L83.89,-26.10 L83.97,-23.37 L84.04,-20.73 L84.12,-18.16 L84.19,-15.66 L84.27,-13.23 L84.34,-10.87 L84.41,-8.57 L84.49,-6.33 L84.56,-4.15 L84.64,-2.02 L84.71,0.05 L84.79,2.08 L84.86,4.06 L84.93,5.99 L85.01,7.88 L85.08,9.73 L85.16,11.54 L85.23,13.31 L85.31,15.04 L85.38,16.74 L85.45,18.41 L85.53,20.04 L85.60,21.63 L85.68,23.20 L85.75,24.74 L85.83,26.25 L85.90,27.73 L85.97,29.19 L86.05,30.62 L86.12,32.02 L86.20,33.40 L86.27,34.76 L86.35,36.09 L86.42,37.40 L86.49,38.69 L86.57,39.96 L86.64,41.21 L86.72,42.44 L86.79,43.65 L86.86,44.84 L86.94,46.02 L87.01,47.17 L87.09,48.31 L87.16,49.44 L87.24,50.55 L87.31,51.64 L87.38,52.71 L87.46,53.77 L87.53,54.82 L87.61,55.85 L87.68,56.87 L87.76,57.88 L87.83,58.87 L87.90,59.85 L87.98,60.82 L88.05,61.77 L88.13,62.72 L88.20,63.65 L88.28,64.57 L88.35,65.47 L88.42,66.37 L88.50,67.26 L88.57,68.14 L88.65,69.00 L88.72,69.86 L88.80,70.71 L88.87,71.54 L88.94,72.37 L89.02,73.19 L89.09,74.00 L89.17,74.80 L89.24,75.59 L89.32,76.37 L89.39,77.15 L89.46,77.92 L89.54,78.67 L89.61,79.43 L89.69,80.17 L89.76,80.90 L89.84,81.63 L89.91,82.35 L89.98,83.07 L90.06,83.78 L90.13,84.48 L90.21,85.17 L90.28,85.86 L90.36,86.54 L90.43,87.21 L90.50,87.88 L90.58,88.54 L90.65,89.19 L90.73,89.84 L90.80,90.49 L90.88,91.12 L90.95,91.75 L91.02,92.38 L91.10,93.00 L91.17,93.62 L91.25,94.23 L91.32,94.83 L91.40,95.43 L91.54,96.61 L91.69,97.78 L91.84,98.92 L91.99,100.05 L92.14,101.16 L92.29,102.25 L92.43,103.32 L92.58,104.38 L92.73,105.42 L92.88,106.45 L93.03,107.46 L93.18,108.46 L93.33,109.44 L93.47,110.40 L93.62,111.36 L93.77,112.30 L93.92,113.23 L94.07,114.14 L94.22,115.04 L94.37,115.93 L94.51,116.81 L94.66,117.68 L94.81,118.54 L94.96,119.38 L95.11,120.22 L95.26,121.04 L95.41,121.86 L95.55,122.66 L95.70,123.46 L95.85,124.24 L96.00,125.02 L96.15,125.78 L96.30,126.54 L96.44,127.29 L96.59,128.03 L96.74,128.76 L96.89,129.49 L97.04,130.20 L97.19,130.91 L97.34,131.61 L97.48,132.31 L97.63,132.99 L97.78,133.67 L97.93,134.34 L98.08,135.01 L98.23,135.66 L98.38,136.31 L98.52,136.96 L98.67,137.60 L98.82,138.23 L98.97,138.85 L99.12,139.47 L99.27,140.08 L99.42,140.69 L99.56,141.29 L99.71,141.89 L99.86,142.48 L100.01,143.06 L100.23,143.93 L100.46,144.78 L100.68,145.63 L100.90,146.46 L101.12,147.28 L101.35,148.09 L101.57,148.89 L101.79,149.68 L102.01,150.46 L102.24,151.23 L102.46,151.99 L102.68,152.74 L102.91,153.48 L103.13,154.21 L103.35,154.94 L103.50,155.42" fill="none" stroke="#dd80f2" stroke-width="1.50" stroke-linejoin="round" clip-path="url(#cm)"/>
<line x1="103.80" y1="148.00" x2="103.80" y2="157.00" stroke="#dd80f2" stroke-width="1.20" clip-path="url(#cm)"/>
<circle cx="87.25" cy="34.75" r="3.00" fill="#dd80f2" clip-path="url(#cm)"/>
<circle cx="91.25" cy="88.10" r="3.00" fill="#dd80f2" clip-path="url(#cm)"/>
<circle cx="95.25" cy="126.90" r="3.00" fill="#dd80f2" clip-path="url(#cm)"/>
<circle cx="103.50" cy="152.75" r="3.00" fill="#dd80f2" clip-path="url(#cm)"/>
<path d="M74.78,-50.00 L75.40,-50.00 L76.02,-50.00 L76.64,-50.00 L77.26,-50.00 L77.88,-50.00 L78.50,-50.00 L79.12,-50.00 L79.74,-50.00 L80.05,-49.42 L80.08,-48.28 L80.12,-47.14 L80.15,-46.01 L80.18,-44.88 L80.22,-43.77 L80.25,-42.66 L80.29,-41.56 L80.32,-40.46 L80.36,-39.38 L80.39,-38.30 L80.43,-37.22 L80.46,-36.16 L80.49,-35.10 L80.53,-34.04 L80.56,-33.00 L80.60,-31.96 L80.63,-30.93 L80.67,-29.90 L80.70,-28.88 L80.74,-27.87 L80.77,-26.86 L80.80,-25.86 L80.84,-24.87 L80.87,-23.88 L80.91,-22.90 L80.94,-21.92 L80.98,-20.95 L81.01,-19.99 L81.05,-19.03 L81.08,-18.08 L81.11,-17.13 L81.15,-16.19 L81.18,-15.26 L81.22,-14.33 L81.25,-13.41 L81.29,-12.49 L81.32,-11.58 L81.36,-10.67 L81.39,-9.77 L81.42,-8.88 L81.46,-7.99 L81.49,-7.10 L81.53,-6.22 L81.56,-5.35 L81.60,-4.48 L81.63,-3.62 L81.66,-2.76 L81.70,-1.91 L81.73,-1.06 L81.77,-0.21 L81.80,0.62 L81.84,1.46 L81.87,2.29 L81.91,3.11 L81.94,3.93 L81.97,4.74 L82.01,5.55 L82.04,6.36 L82.08,7.16 L82.11,7.95 L82.15,8.75 L82.18,9.53 L82.22,10.31 L82.25,11.09 L82.28,11.86 L82.32,12.63 L82.35,13.40 L82.39,14.16 L82.42,14.91 L82.46,15.67 L82.49,16.41 L82.53,17.16 L82.56,17.90 L82.59,18.63 L82.63,19.36 L82.66,20.09 L82.70,20.81 L82.73,21.53 L82.77,22.24 L82.80,22.96 L82.84,23.66 L82.87,24.37 L82.90,25.07 L82.94,25.76 L82.97,26.45 L83.01,27.14 L83.04,27.83 L83.08,28.51 L83.11,29.18 L83.15,29.86 L83.18,30.53 L83.21,31.19 L83.25,31.85 L83.28,32.51 L83.32,33.17 L83.35,33.82 L83.39,34.47 L83.42,35.11 L83.46,35.76 L83.49,36.39 L83.52,37.03 L83.56,37.66 L83.59,38.29 L83.63,38.91 L83.66,39.54 L83.70,40.15 L83.73,40.77 L83.77,41.38 L83.80,41.99 L83.83,42.60 L83.87,43.20 L83.90,43.80 L83.97,44.99 L84.04,46.17 L84.11,47.33 L84.18,48.49 L84.25,49.63 L84.32,50.76 L84.39,51.88 L84.45,52.99 L84.52,54.09 L84.59,55.18 L84.66,56.25 L84.73,57.32 L84.80,58.37 L84.87,59.42 L84.94,60.45 L85.00,61.48 L85.07,62.49 L85.14,63.50 L85.21,64.50 L85.28,65.48 L85.35,66.46 L85.42,67.43 L85.49,68.39 L85.56,69.34 L85.62,70.28 L85.69,71.21 L85.76,72.13 L85.83,73.05 L85.90,73.96 L85.97,74.85 L86.04,75.74 L86.11,76.63 L86.18,77.50 L86.24,78.37 L86.31,79.23 L86.38,80.08 L86.45,80.92 L86.52,81.76 L86.59,82.58 L86.66,83.41 L86.73,84.22 L86.80,85.03 L86.86,85.83 L86.93,86.62 L87.00,87.40 L87.07,88.18 L87.14,88.96 L87.21,89.72 L87.28,90.48 L87.35,91.23 L87.42,91.98 L87.48,92.72 L87.55,93.45 L87.62,94.18 L87.69,94.90 L87.76,95.62 L87.83,96.33 L87.90,97.03 L87.97,97.73 L88.03,98.42 L88.10,99.11 L88.17,99.79 L88.24,100.47 L88.31,101.14 L88.38,101.80 L88.45,102.46 L88.52,103.11 L88.55,103.44" fill="none" stroke="#a0000f" stroke-width="1.50" stroke-linejoin="round" clip-path="url(#cm)"/>
<circle cx="83.10" cy="13.50" r="3.00" fill="#a0000f" clip-path="url(#cm)"/>
<circle cx="87.25" cy="91.30" r="3.00" fill="#a0000f" clip-path="url(#cm)"/>
<g stroke="#000000" stroke-width="1.25" fill="none">
<rect x="49.20" y="8.30" width="229.55" height="216.70"/>
<line x1="65.60" y1="225.00" x2="65.60" y2="220.50"/>
<line x1="65.60" y1="8.30" x2="65.60" y2="12.80"/>
<line x1="98.39" y1="225.00" x2="98.39" y2="220.50"/>
<line x1="98.39" y1="8.30" x2="98.39" y2="12.80"/>
<line x1="131.18" y1="225.00" x2="131.18" y2="220.50"/>
<line x1="131.18" y1="8.30" x2="131.18" y2="12.80"/>
<line x1="163.98" y1="225.00" x2="163.98" y2="220.50"/>
<line x1="163.98" y1="8.30" x2="163.98" y2="12.80"/>
<line x1="196.77" y1="225.00" x2="196.77" y2="220.50"/>
<line x1="196.77" y1="8.30" x2="196.77" y2="12.80"/>
<line x1="229.56" y1="225.00" x2="229.56" y2="220.50"/>
<line x1="229.56" y1="8.30" x2="229.56" y2="12.80"/>
<line x1="262.35" y1="225.00" x2="262.35" y2="220.50"/>
<line x1="262.35" y1="8.30" x2="262.35" y2="12.80"/>
<line x1="49.20" y1="203.37" x2="53.70" y2="203.37"/>
<line x1="278.75" y1="203.37" x2="274.25" y2="203.37"/>
<line x1="49.20" y1="174.38" x2="53.70" y2="174.38"/>
<line x1="278.75" y1="174.38" x2="274.25" y2="174.38"/>
<line x1="49.20" y1="145.40" x2="53.70" y2="145.40"/>
<line x1="278.75" y1="145.40" x2="274.25" y2="145.40"/>
<line x1="49.20" y1="116.42" x2="53.70" y2="116.42"/>
<line x1="278.75" y1="116.42" x2="274.25" y2="116.42"/>
<line x1="49.20" y1="87.44" x2="53.70" y2="87.44"/>
<line x1="278.75" y1="87.44" x2="274.25" y2="87.44"/>
<line x1="49.20" y1="58.46" x2="53.70" y2="58.46"/>
<line x1="278.75" y1="58.46" x2="274.25" y2="58.46"/>
<line x1="49.20" y1="29.48" x2="53.70" y2="29.48"/>
<line x1="278.75" y1="29.48" x2="274.25" y2="29.48"/>
</g>
<rect x="161.50" y="15.60" width="109.80" height="132.30" fill="#fff"/>
<circle cx="170.00" cy="93.75" r="2.60" fill="none" stroke="#a0000f" stroke-width="0.90" clip-path="url(#ci)"/>
<circle cx="191.00" cy="97.75" r="2.60" fill="none" stroke="#1e3cfa" stroke-width="0.90" clip-path="url(#ci)"/>
<circle cx="183.75" cy="122.50" r="2.60" fill="none" stroke="#1e3cfa" stroke-width="0.90" clip-path="url(#ci)"/>
<circle cx="176.60" cy="130.40" r="2.60" fill="none" stroke="#1e3cfa" stroke-width="0.90" clip-path="url(#ci)"/>
<circle cx="176.50" cy="128.00" r="2.60" fill="none" stroke="#dd80f2" stroke-width="0.90" clip-path="url(#ci)"/>
<circle cx="170.00" cy="136.20" r="2.60" fill="none" stroke="#dd80f2" stroke-width="0.90" clip-path="url(#ci)"/>
<circle cx="183.50" cy="142.75" r="2.60" fill="none" stroke="#78f2e2" stroke-width="0.90" clip-path="url(#ci)"/>
<circle cx="190.00" cy="138.10" r="2.60" fill="none" stroke="#78f2e2" stroke-width="0.90" clip-path="url(#ci)"/>
<circle cx="197.25" cy="141.25" r="2.60" fill="none" stroke="#0c960c" stroke-width="0.90" clip-path="url(#ci)"/>
<circle cx="197.25" cy="145.60" r="2.60" fill="none" stroke="#62f000" stroke-width="0.90" clip-path="url(#ci)"/>
<circle cx="211.00" cy="123.00" r="2.60" fill="none" stroke="#62f000" stroke-width="0.90" clip-path="url(#ci)"/>
<circle cx="211.00" cy="139.90" r="2.60" fill="none" stroke="#62f000" stroke-width="0.90" clip-path="url(#ci)"/>
<circle cx="224.75" cy="131.00" r="2.60" fill="none" stroke="#62f000" stroke-width="0.90" clip-path="url(#ci)"/>
<circle cx="265.60" cy="139.00" r="2.60" fill="none" stroke="#ff930f" stroke-width="0.90" clip-path="url(#ci)"/>
<path d="M238.60,131.00 L239.20,131.27 L239.79,131.54 L240.39,131.80 L240.99,132.06 L241.58,132.32 L242.18,132.57 L242.77,132.82 L243.37,133.07 L243.97,133.32 L244.56,133.56 L245.16,133.80 L245.76,134.04 L246.35,134.27 L246.95,134.50 L247.54,134.73 L248.14,134.96 L248.74,135.18 L249.33,135.40 L249.93,135.62 L250.53,135.84 L251.12,136.05 L251.72,136.27 L252.31,136.47 L252.91,136.68 L253.51,136.89 L254.10,137.09 L254.70,137.29 L255.30,137.49 L255.89,137.68 L256.49,137.88 L257.08,138.07 L257.68,138.26 L258.28,138.45 L258.87,138.63 L259.47,138.82 L260.07,139.00 L260.66,139.18 L261.26,139.36 L261.85,139.53 L262.45,139.71 L263.05,139.88 L263.64,140.05 L264.24,140.22 L264.84,140.39 L265.43,140.55 L266.03,140.72 L266.62,140.88 L267.22,141.04 L267.82,141.20 L268.41,141.36 L269.01,141.51 L269.61,141.67 L270.20,141.82 L270.80,141.97 L271.39,142.12 L271.99,142.27 L272.59,142.42 L272.67,142.44" fill="none" stroke="#62f000" stroke-width="1.50" stroke-linejoin="round" clip-path="url(#ci)"/>
<circle cx="238.60" cy="131.00" r="3.00" fill="#62f000" clip-path="url(#ci)"/>
<circle cx="252.10" cy="136.40" r="3.00" fill="#62f000" clip-path="url(#ci)"/>
<circle cx="265.60" cy="140.60" r="3.00" fill="#62f000" clip-path="url(#ci)"/>
<path d="M224.75,126.65 L225.35,127.05 L225.95,127.45 L226.55,127.84 L227.15,128.22 L227.75,128.60 L228.34,128.97 L228.94,129.33 L229.54,129.69 L230.14,130.04 L230.74,130.39 L231.34,130.72 L231.94,131.06 L232.54,131.38 L233.14,131.70 L233.74,132.02 L234.33,132.33 L234.93,132.63 L235.53,132.93 L236.13,133.23 L236.73,133.52 L237.33,133.80 L237.93,134.08 L238.53,134.35 L239.13,134.62 L239.73,134.89 L240.32,135.15 L240.92,135.40 L241.52,135.65 L242.12,135.90 L242.72,136.14 L243.32,136.38 L243.92,136.61 L244.52,136.84 L245.12,137.07 L245.72,137.29 L246.32,137.51 L246.91,137.73 L247.51,137.94 L248.11,138.15 L248.71,138.35 L249.31,138.55 L249.91,138.75 L250.51,138.94 L251.11,139.13 L251.71,139.32 L252.31,139.50 L252.90,139.68 L253.50,139.86 L254.10,140.04 L254.70,140.21 L255.30,140.38 L255.90,140.55 L256.50,140.71 L257.10,140.87 L257.70,141.03 L258.30,141.19 L258.89,141.34 L259.49,141.49 L260.09,141.64 L260.69,141.78 L261.29,141.93 L261.89,142.07 L262.49,142.21 L263.09,142.34 L263.69,142.48 L264.29,142.61 L264.89,142.74 L265.48,142.86 L266.08,142.99 L266.68,143.11 L267.28,143.24 L267.88,143.35 L268.48,143.47 L269.08,143.59 L269.68,143.70 L270.28,143.81 L270.88,143.92 L271.47,144.03 L272.07,144.14 L272.67,144.24" fill="none" stroke="#0c960c" stroke-width="1.50" stroke-linejoin="round" clip-path="url(#ci)"/>
<circle cx="224.75" cy="126.70" r="3.00" fill="#0c960c" clip-path="url(#ci)"/>
<circle cx="238.60" cy="134.20" r="3.00" fill="#0c960c" clip-path="url(#ci)"/>
<circle cx="251.90" cy="139.60" r="3.00" fill="#0c960c" clip-path="url(#ci)"/>
<circle cx="265.60" cy="142.80" r="3.00" fill="#0c960c" clip-path="url(#ci)"/>
<path d="M204.40,94.39 L204.57,95.48 L204.74,96.53 L204.91,97.54 L205.08,98.51 L205.25,99.44 L205.42,100.34 L205.59,101.22 L205.77,102.06 L205.94,102.87 L206.11,103.66 L206.28,104.42 L206.45,105.16 L206.62,105.87 L206.79,106.56 L206.96,107.24 L207.13,107.89 L207.30,108.52 L207.47,109.13 L207.64,109.73 L207.81,110.31 L208.15,111.43 L208.50,112.48 L208.84,113.48 L209.18,114.43 L209.52,115.34 L209.86,116.20 L210.20,117.02 L210.54,117.80 L210.89,118.55 L211.23,119.27 L211.57,119.96 L211.91,120.62 L212.25,121.25 L212.59,121.86 L212.93,122.44 L213.28,123.00 L213.62,123.55 L213.96,124.07 L214.30,124.57 L214.81,125.29 L215.32,125.98 L215.84,126.63 L216.35,127.25 L216.86,127.84 L217.37,128.40 L217.88,128.94 L218.40,129.46 L218.91,129.95 L219.42,130.42 L219.93,130.88 L220.44,131.31 L220.96,131.73 L221.47,132.13 L221.98,132.52 L222.49,132.89 L223.00,133.25 L223.52,133.60 L224.03,133.93 L224.54,134.26 L225.22,134.67 L225.91,135.07 L226.59,135.45 L227.27,135.81 L227.95,136.16 L228.64,136.50 L229.32,136.82 L230.00,137.13 L230.68,137.43 L231.37,137.72 L232.05,137.99 L232.73,138.26 L233.42,138.52 L234.10,138.77 L234.78,139.01 L235.46,139.24 L236.15,139.47 L236.83,139.69 L237.51,139.90 L238.19,140.11 L238.88,140.30 L239.56,140.50 L240.24,140.69 L240.93,140.87 L241.61,141.04 L242.29,141.22 L242.97,141.38 L243.66,141.55 L244.34,141.71 L245.02,141.86 L245.70,142.01 L246.39,142.16 L247.07,142.30 L247.75,142.44 L248.44,142.58 L249.12,142.71 L249.80,142.84 L250.48,142.96 L251.17,143.09 L251.85,143.21 L252.53,143.32 L253.21,143.44 L253.90,143.55 L254.58,143.66 L255.26,143.77 L255.95,143.88 L256.63,143.98 L257.31,144.08 L257.99,144.18 L258.68,144.28 L259.36,144.37 L260.04,144.46 L260.72,144.55 L261.41,144.64 L262.09,144.73 L262.77,144.82 L263.46,144.90 L264.14,144.98 L264.82,145.07 L265.50,145.14 L266.19,145.22 L266.87,145.30 L267.55,145.37 L268.23,145.45 L268.92,145.52 L269.60,145.59 L270.28,145.66 L270.97,145.73 L271.65,145.80 L272.33,145.87 L272.67,145.90" fill="none" stroke="#78f2e2" stroke-width="1.50" stroke-linejoin="round" clip-path="url(#ci)"/>
<line x1="204.40" y1="88.50" x2="204.40" y2="100.00" stroke="#78f2e2" stroke-width="1.20" clip-path="url(#ci)"/>
<circle cx="204.40" cy="94.00" r="3.00" fill="#78f2e2" clip-path="url(#ci)"/>
<circle cx="211.00" cy="119.20" r="3.00" fill="#78f2e2" clip-path="url(#ci)"/>
<circle cx="224.75" cy="134.00" r="3.00" fill="#78f2e2" clip-path="url(#ci)"/>
<circle cx="238.75" cy="140.60" r="3.00" fill="#78f2e2" clip-path="url(#ci)"/>
<circle cx="252.00" cy="143.30" r="3.00" fill="#78f2e2" clip-path="url(#ci)"/>
<circle cx="265.60" cy="145.00" r="3.00" fill="#78f2e2" clip-path="url(#ci)"/>
<path d="M197.25,91.49 L197.44,92.43 L197.63,93.34 L197.82,94.24 L198.00,95.11 L198.19,95.96 L198.38,96.80 L198.57,97.61 L198.76,98.41 L198.95,99.18 L199.14,99.95 L199.32,100.69 L199.51,101.42 L199.70,102.13 L199.89,102.83 L200.08,103.51 L200.27,104.18 L200.46,104.83 L200.64,105.47 L200.83,106.10 L201.02,106.71 L201.21,107.31 L201.40,107.90 L201.59,108.48 L201.96,109.60 L202.34,110.68 L202.72,111.71 L203.10,112.71 L203.47,113.66 L203.85,114.58 L204.23,115.47 L204.60,116.33 L204.98,117.15 L205.36,117.95 L205.74,118.71 L206.11,119.46 L206.49,120.17 L206.87,120.86 L207.24,121.53 L207.62,122.18 L208.00,122.80 L208.37,123.41 L208.75,123.99 L209.13,124.56 L209.51,125.10 L209.88,125.64 L210.26,126.15 L210.64,126.65 L211.01,127.13 L211.39,127.60 L211.96,128.28 L212.52,128.93 L213.09,129.55 L213.65,130.15 L214.22,130.72 L214.79,131.27 L215.35,131.79 L215.92,132.29 L216.48,132.78 L217.05,133.24 L217.61,133.69 L218.18,134.12 L218.75,134.53 L219.31,134.93 L219.88,135.32 L220.44,135.69 L221.01,136.04 L221.57,136.39 L222.14,136.72 L222.71,137.04 L223.27,137.35 L223.84,137.65 L224.40,137.94 L224.97,138.22 L225.53,138.49 L226.10,138.75 L226.66,139.01 L227.23,139.25 L227.80,139.49 L228.36,139.72 L228.93,139.94 L229.49,140.16 L230.06,140.37 L230.62,140.57 L231.38,140.84 L232.13,141.09 L232.89,141.33 L233.64,141.56 L234.40,141.79 L235.15,142.01 L235.90,142.21 L236.66,142.42 L237.41,142.61 L238.17,142.80 L238.92,142.98 L239.68,143.15 L240.43,143.32 L241.18,143.48 L241.94,143.64 L242.69,143.79 L243.45,143.94 L244.20,144.08 L244.95,144.22 L245.71,144.36 L246.46,144.49 L247.22,144.61 L247.97,144.73 L248.73,144.85 L249.48,144.97 L250.23,145.08 L250.99,145.19 L251.74,145.29 L252.50,145.39 L253.25,145.49 L254.01,145.59 L254.76,145.68 L255.51,145.77 L256.27,145.86 L257.02,145.95 L257.78,146.03 L258.53,146.11 L259.29,146.19 L260.04,146.27 L260.79,146.34 L261.55,146.42 L262.30,146.49 L263.06,146.56 L263.81,146.63 L264.56,146.69 L265.32,146.76 L266.07,146.82 L266.83,146.88 L267.58,146.94 L268.34,147.00 L269.09,147.06 L269.84,147.11 L270.60,147.17 L271.35,147.22 L272.11,147.27 L272.67,147.31" fill="none" stroke="#1e3cfa" stroke-width="1.50" stroke-linejoin="round" clip-path="url(#ci)"/>
<line x1="197.25" y1="84.40" x2="197.25" y2="98.00" stroke="#1e3cfa" stroke-width="1.20" clip-path="url(#ci)"/>
<circle cx="197.25" cy="91.25" r="3.00" fill="#1e3cfa" clip-path="url(#ci)"/>
<circle cx="204.40" cy="116.30" r="3.00" fill="#1e3cfa" clip-path="url(#ci)"/>
<circle cx="210.80" cy="126.60" r="3.00" fill="#1e3cfa" clip-path="url(#ci)"/>
<circle cx="224.70" cy="138.10" r="3.00" fill="#1e3cfa" clip-path="url(#ci)"/>
<circle cx="238.60" cy="143.00" r="3.00" fill="#1e3cfa" clip-path="url(#ci)"/>
<circle cx="252.30" cy="145.30" r="3.00" fill="#1e3cfa" clip-path="url(#ci)"/>
<path d="M183.75,56.95 L183.85,58.54 L183.95,60.07 L184.06,61.55 L184.16,62.97 L184.26,64.35 L184.36,65.67 L184.46,66.96 L184.57,68.20 L184.67,69.40 L184.77,70.56 L184.87,71.69 L184.98,72.78 L185.08,73.84 L185.18,74.87 L185.28,75.87 L185.38,76.84 L185.49,77.79 L185.59,78.71 L185.69,79.60 L185.79,80.47 L185.89,81.32 L186.00,82.15 L186.10,82.95 L186.20,83.74 L186.30,84.51 L186.41,85.26 L186.51,85.99 L186.61,86.70 L186.71,87.40 L186.81,88.09 L186.92,88.75 L187.02,89.41 L187.12,90.04 L187.22,90.67 L187.32,91.28 L187.43,91.88 L187.63,93.04 L187.84,94.16 L188.04,95.24 L188.24,96.27 L188.45,97.26 L188.65,98.22 L188.86,99.15 L189.06,100.04 L189.26,100.91 L189.47,101.74 L189.67,102.55 L189.88,103.34 L190.08,104.09 L190.29,104.83 L190.49,105.55 L190.69,106.24 L190.90,106.91 L191.10,107.57 L191.31,108.20 L191.51,108.82 L191.72,109.42 L191.92,110.01 L192.12,110.58 L192.43,111.41 L192.74,112.21 L193.04,112.98 L193.35,113.72 L193.66,114.44 L193.96,115.13 L194.27,115.80 L194.58,116.45 L194.88,117.08 L195.19,117.69 L195.49,118.28 L195.80,118.85 L196.11,119.41 L196.41,119.94 L196.72,120.47 L197.13,121.14 L197.54,121.79 L197.95,122.42 L198.35,123.03 L198.76,123.62 L199.17,124.18 L199.58,124.73 L199.99,125.26 L200.40,125.78 L200.80,126.27 L201.21,126.76 L201.62,127.23 L202.03,127.68 L202.44,128.13 L202.95,128.66 L203.46,129.18 L203.97,129.68 L204.48,130.17 L204.99,130.63 L205.50,131.09 L206.01,131.53 L206.52,131.96 L207.03,132.37 L207.55,132.78 L208.06,133.17 L208.57,133.55 L209.08,133.92 L209.59,134.28 L210.10,134.63 L210.61,134.97 L211.12,135.30 L211.63,135.63 L212.14,135.94 L212.75,136.31 L213.37,136.67 L213.98,137.02 L214.59,137.36 L215.20,137.69 L215.82,138.01 L216.43,138.32 L217.04,138.62 L217.66,138.92 L218.27,139.21 L218.88,139.49 L219.49,139.77 L220.11,140.03 L220.72,140.30 L221.33,140.55 L221.94,140.80 L222.56,141.05 L223.17,141.29 L223.78,141.52 L224.40,141.75 L224.60,141.82" fill="none" stroke="#dd80f2" stroke-width="1.50" stroke-linejoin="round" clip-path="url(#ci)"/>
<line x1="183.75" y1="34.00" x2="183.75" y2="53.00" stroke="#dd80f2" stroke-width="1.20" clip-path="url(#ci)"/>
<circle cx="183.75" cy="53.10" r="3.00" fill="#dd80f2" clip-path="url(#ci)"/>
<circle cx="190.60" cy="107.50" r="3.00" fill="#dd80f2" clip-path="url(#ci)"/>
<circle cx="197.20" cy="119.60" r="3.00" fill="#dd80f2" clip-path="url(#ci)"/>
<circle cx="204.20" cy="129.40" r="3.00" fill="#dd80f2" clip-path="url(#ci)"/>
<circle cx="210.80" cy="136.50" r="3.00" fill="#dd80f2" clip-path="url(#ci)"/>
<circle cx="224.60" cy="141.30" r="3.00" fill="#dd80f2" clip-path="url(#ci)"/>
<path d="M176.60,32.26 L176.66,33.56 L176.72,34.82 L176.78,36.05 L176.84,37.23 L176.90,38.39 L176.95,39.52 L177.01,40.61 L177.07,41.68 L177.13,42.72 L177.19,43.73 L177.25,44.72 L177.31,45.68 L177.37,46.63 L177.43,47.55 L177.49,48.45 L177.54,49.33 L177.60,50.20 L177.66,51.04 L177.72,51.87 L177.78,52.68 L177.84,53.47 L177.90,54.25 L177.96,55.01 L178.02,55.76 L178.08,56.50 L178.13,57.22 L178.19,57.93 L178.25,58.63 L178.31,59.31 L178.37,59.98 L178.43,60.64 L178.49,61.29 L178.55,61.93 L178.61,62.56 L178.67,63.18 L178.72,63.79 L178.78,64.39 L178.90,65.56 L179.02,66.70 L179.14,67.81 L179.26,68.88 L179.37,69.93 L179.49,70.94 L179.61,71.93 L179.73,72.90 L179.85,73.84 L179.96,74.76 L180.08,75.65 L180.20,76.53 L180.32,77.39 L180.44,78.22 L180.55,79.04 L180.67,79.84 L180.79,80.62 L180.91,81.39 L181.03,82.14 L181.14,82.88 L181.26,83.60 L181.38,84.31 L181.50,85.00 L181.62,85.68 L181.73,86.35 L181.85,87.01 L181.97,87.65 L182.09,88.28 L182.21,88.91 L182.32,89.52 L182.44,90.12 L182.56,90.71 L182.74,91.58 L182.91,92.43 L183.09,93.26 L183.27,94.07 L183.45,94.87 L183.62,95.64 L183.80,96.40 L183.98,97.14 L184.15,97.87 L184.33,98.58 L184.51,99.28 L184.68,99.96 L184.86,100.64 L185.04,101.29 L185.22,101.94 L185.39,102.57 L185.57,103.20 L185.75,103.81 L185.92,104.41 L186.10,105.00 L186.28,105.58 L186.51,106.34 L186.75,107.09 L186.99,107.81 L187.22,108.52 L187.46,109.22 L187.69,109.91 L187.93,110.57 L188.17,111.23 L188.40,111.88 L188.64,112.51 L188.87,113.13 L189.11,113.74 L189.35,114.34 L189.58,114.92 L189.82,115.50 L190.05,116.07 L190.29,116.63 L190.59,117.31 L190.88,117.98 L191.18,118.64 L191.47,119.28 L191.77,119.91 L192.06,120.53 L192.36,121.14 L192.65,121.74 L192.95,122.32 L193.24,122.90 L193.54,123.47 L193.83,124.02 L194.13,124.57 L194.42,125.11 L194.72,125.64 L195.07,126.26 L195.42,126.87 L195.78,127.47 L196.13,128.06 L196.49,128.64 L196.84,129.21 L197.19,129.76 L197.55,130.31 L197.90,130.85 L198.26,131.38 L198.61,131.90 L198.97,132.41 L199.32,132.92 L199.67,133.41 L200.03,133.90 L200.20,134.14" fill="none" stroke="#a0000f" stroke-width="1.50" stroke-linejoin="round" clip-path="url(#ci)"/>
<line x1="176.60" y1="18.75" x2="176.60" y2="30.00" stroke="#a0000f" stroke-width="1.20" clip-path="url(#ci)"/>
<circle cx="176.60" cy="29.40" r="3.00" fill="#a0000f" clip-path="url(#ci)"/>
<circle cx="183.75" cy="99.20" r="3.00" fill="#a0000f" clip-path="url(#ci)"/>
<circle cx="190.75" cy="116.10" r="3.00" fill="#a0000f" clip-path="url(#ci)"/>
<circle cx="197.20" cy="130.20" r="3.00" fill="#a0000f" clip-path="url(#ci)"/>
<g stroke="#000000" stroke-width="1.25" fill="none">
<rect x="161.50" y="15.60" width="109.80" height="132.30"/>
<line x1="216.40" y1="147.90" x2="216.40" y2="143.90"/>
<line x1="216.40" y1="15.60" x2="216.40" y2="19.60"/>
<line x1="161.50" y1="134.67" x2="165.50" y2="134.67"/>
<line x1="271.30" y1="134.67" x2="267.30" y2="134.67"/>
<line x1="161.50" y1="108.21" x2="165.50" y2="108.21"/>
<line x1="271.30" y1="108.21" x2="267.30" y2="108.21"/>
<line x1="161.50" y1="81.75" x2="165.50" y2="81.75"/>
<line x1="271.30" y1="81.75" x2="267.30" y2="81.75"/>
<line x1="161.50" y1="55.29" x2="165.50" y2="55.29"/>
<line x1="271.30" y1="55.29" x2="267.30" y2="55.29"/>
<line x1="161.50" y1="28.83" x2="165.50" y2="28.83"/>
<line x1="271.30" y1="28.83" x2="267.30" y2="28.83"/>
</g>
<line x1="358.10" y1="38.40" x2="558.10" y2="214.00" stroke="#000000" stroke-width="1.5" stroke-dasharray="7.3,7.3" stroke-dashoffset="0.3" clip-path="url(#cb)"/>
<line x1="358.10" y1="204.20" x2="558.10" y2="66.20" stroke="#ff0000" stroke-width="1.5" stroke-dasharray="7.3,7.3" stroke-dashoffset="0" clip-path="url(#cb)"/>
<line x1="363.10" y1="37.00" x2="363.10" y2="45.60" stroke="#222" stroke-width="1.00"/>
<line x1="359.50" y1="37.00" x2="366.70" y2="37.00" stroke="#222" stroke-width="1.10"/>
<line x1="359.50" y1="45.60" x2="366.70" y2="45.60" stroke="#222" stroke-width="1.10"/>
<rect x="360.10" y="38.25" width="6" height="6" fill="#000"/>
<line x1="415.50" y1="90.30" x2="422.50" y2="90.30" stroke="#000" stroke-width="1.00"/>
<line x1="415.50" y1="95.50" x2="422.50" y2="95.50" stroke="#000" stroke-width="1.00"/>
<rect x="416.00" y="89.90" width="6" height="6" fill="#000"/>
<line x1="470.90" y1="143.40" x2="477.90" y2="143.40" stroke="#000" stroke-width="1.00"/>
<line x1="470.90" y1="148.60" x2="477.90" y2="148.60" stroke="#000" stroke-width="1.00"/>
<rect x="471.40" y="143.00" width="6" height="6" fill="#000"/>
<line x1="496.50" y1="161.00" x2="496.50" y2="169.80" stroke="#222" stroke-width="1.00"/>
<line x1="492.90" y1="161.00" x2="500.10" y2="161.00" stroke="#222" stroke-width="1.10"/>
<line x1="492.90" y1="169.80" x2="500.10" y2="169.80" stroke="#222" stroke-width="1.10"/>
<rect x="493.50" y="162.50" width="6" height="6" fill="#000"/>
<line x1="515.60" y1="172.40" x2="522.60" y2="172.40" stroke="#000" stroke-width="1.00"/>
<line x1="515.60" y1="177.60" x2="522.60" y2="177.60" stroke="#000" stroke-width="1.00"/>
<rect x="516.10" y="172.00" width="6" height="6" fill="#000"/>
<line x1="526.60" y1="182.00" x2="533.60" y2="182.00" stroke="#000" stroke-width="1.00"/>
<line x1="526.60" y1="187.20" x2="533.60" y2="187.20" stroke="#000" stroke-width="1.00"/>
<rect x="527.10" y="181.60" width="6" height="6" fill="#000"/>
<line x1="537.90" y1="198.40" x2="544.90" y2="198.40" stroke="#000" stroke-width="1.00"/>
<line x1="537.90" y1="203.60" x2="544.90" y2="203.60" stroke="#000" stroke-width="1.00"/>
<rect x="538.40" y="198.00" width="6" height="6" fill="#000"/>
<line x1="552.30" y1="206.40" x2="552.30" y2="220.80" stroke="#222" stroke-width="1.00"/>
<line x1="548.70" y1="206.40" x2="555.90" y2="206.40" stroke="#222" stroke-width="1.10"/>
<line x1="548.70" y1="220.80" x2="555.90" y2="220.80" stroke="#222" stroke-width="1.10"/>
<rect x="549.30" y="211.00" width="6" height="6" fill="#000"/>
<line x1="363.10" y1="187.20" x2="363.10" y2="191.60" stroke="#ff0000" stroke-width="1.20"/>
<line x1="359.60" y1="187.20" x2="366.60" y2="187.20" stroke="#ff0000" stroke-width="1.20"/>
<line x1="359.60" y1="191.60" x2="366.60" y2="191.60" stroke="#ff0000" stroke-width="1.20"/>
<circle cx="363.10" cy="189.40" r="2.60" fill="#ff0000"/>
<line x1="418.75" y1="162.00" x2="418.75" y2="168.50" stroke="#ff0000" stroke-width="1.20"/>
<line x1="415.25" y1="162.00" x2="422.25" y2="162.00" stroke="#ff0000" stroke-width="1.20"/>
<line x1="415.25" y1="168.50" x2="422.25" y2="168.50" stroke="#ff0000" stroke-width="1.20"/>
<circle cx="418.75" cy="165.25" r="2.60" fill="#ff0000"/>
<line x1="474.60" y1="125.40" x2="474.60" y2="131.70" stroke="#ff0000" stroke-width="1.20"/>
<line x1="471.10" y1="125.40" x2="478.10" y2="125.40" stroke="#ff0000" stroke-width="1.20"/>
<line x1="471.10" y1="131.70" x2="478.10" y2="131.70" stroke="#ff0000" stroke-width="1.20"/>
<circle cx="474.60" cy="128.75" r="2.60" fill="#ff0000"/>
<line x1="496.90" y1="100.60" x2="496.90" y2="114.40" stroke="#ff0000" stroke-width="1.20"/>
<line x1="493.40" y1="100.60" x2="500.40" y2="100.60" stroke="#ff0000" stroke-width="1.20"/>
<line x1="493.40" y1="114.40" x2="500.40" y2="114.40" stroke="#ff0000" stroke-width="1.20"/>
<circle cx="496.90" cy="107.50" r="2.60" fill="#ff0000"/>
<line x1="518.90" y1="105.80" x2="518.90" y2="118.10" stroke="#ff0000" stroke-width="1.20"/>
<line x1="515.40" y1="105.80" x2="522.40" y2="105.80" stroke="#ff0000" stroke-width="1.20"/>
<line x1="515.40" y1="118.10" x2="522.40" y2="118.10" stroke="#ff0000" stroke-width="1.20"/>
<circle cx="518.90" cy="111.90" r="2.60" fill="#ff0000"/>
<line x1="530.10" y1="88.00" x2="530.10" y2="116.25" stroke="#ff0000" stroke-width="1.20"/>
<line x1="526.60" y1="88.00" x2="533.60" y2="88.00" stroke="#ff0000" stroke-width="1.20"/>
<line x1="526.60" y1="116.25" x2="533.60" y2="116.25" stroke="#ff0000" stroke-width="1.20"/>
<circle cx="530.10" cy="102.30" r="2.60" fill="#ff0000"/>
<line x1="541.10" y1="68.90" x2="541.10" y2="101.90" stroke="#ff0000" stroke-width="1.20"/>
<line x1="537.60" y1="68.90" x2="544.60" y2="68.90" stroke="#ff0000" stroke-width="1.20"/>
<line x1="537.60" y1="101.90" x2="544.60" y2="101.90" stroke="#ff0000" stroke-width="1.20"/>
<circle cx="541.10" cy="85.60" r="2.60" fill="#ff0000"/>
<line x1="552.25" y1="8.20" x2="552.25" y2="106.90" stroke="#ff0000" stroke-width="1.20"/>
<line x1="548.75" y1="106.90" x2="555.75" y2="106.90" stroke="#ff0000" stroke-width="1.20"/>
<circle cx="552.25" cy="23.80" r="2.60" fill="#ff0000"/>
<g stroke="#000000" stroke-width="1.25" fill="none">
<rect x="358.10" y="8.20" width="200.00" height="216.80"/>
<line x1="363.66" y1="225.00" x2="363.66" y2="220.50"/>
<line x1="363.66" y1="8.20" x2="363.66" y2="12.70"/>
<line x1="419.21" y1="225.00" x2="419.21" y2="220.50"/>
<line x1="419.21" y1="8.20" x2="419.21" y2="12.70"/>
<line x1="474.77" y1="225.00" x2="474.77" y2="220.50"/>
<line x1="474.77" y1="8.20" x2="474.77" y2="12.70"/>
<line x1="530.32" y1="225.00" x2="530.32" y2="220.50"/>
<line x1="530.32" y1="8.20" x2="530.32" y2="12.70"/>
<line x1="358.10" y1="188.87" x2="362.60" y2="188.87"/>
<line x1="358.10" y1="152.74" x2="362.60" y2="152.74"/>
<line x1="358.10" y1="116.61" x2="362.60" y2="116.61"/>
<line x1="358.10" y1="80.48" x2="362.60" y2="80.48"/>
<line x1="358.10" y1="44.35" x2="362.60" y2="44.35"/>
</g>
<g stroke="#ff0000" stroke-width="1.1">
<line x1="553.60" y1="225.00" x2="557.50" y2="225.00"/>
<line x1="553.60" y1="185.50" x2="557.50" y2="185.50"/>
<line x1="553.60" y1="146.00" x2="557.50" y2="146.00"/>
<line x1="553.60" y1="106.50" x2="557.50" y2="106.50"/>
<line x1="553.60" y1="67.00" x2="557.50" y2="67.00"/>
<line x1="553.60" y1="27.50" x2="557.50" y2="27.50"/>
</g>
<text transform="translate(65.60,240.80) scale(1.020,1)" font-size="15.00" text-anchor="middle" fill="#000" stroke="#000" stroke-width="0.30" font-family="Liberation Sans, sans-serif" >180</text>
<text transform="translate(98.39,240.80) scale(1.020,1)" font-size="15.00" text-anchor="middle" fill="#000" stroke="#000" stroke-width="0.30" font-family="Liberation Sans, sans-serif" >200</text>
<text transform="translate(131.18,240.80) scale(1.020,1)" font-size="15.00" text-anchor="middle" fill="#000" stroke="#000" stroke-width="0.30" font-family="Liberation Sans, sans-serif" >220</text>
<text transform="translate(163.98,240.80) scale(1.020,1)" font-size="15.00" text-anchor="middle" fill="#000" stroke="#000" stroke-width="0.30" font-family="Liberation Sans, sans-serif" >240</text>
<text transform="translate(196.77,240.80) scale(1.020,1)" font-size="15.00" text-anchor="middle" fill="#000" stroke="#000" stroke-width="0.30" font-family="Liberation Sans, sans-serif" >260</text>
<text transform="translate(229.56,240.80) scale(1.020,1)" font-size="15.00" text-anchor="middle" fill="#000" stroke="#000" stroke-width="0.30" font-family="Liberation Sans, sans-serif" >280</text>
<text transform="translate(262.35,240.80) scale(1.020,1)" font-size="15.00" text-anchor="middle" fill="#000" stroke="#000" stroke-width="0.30" font-family="Liberation Sans, sans-serif" >300</text>
<text transform="translate(44.20,207.97) scale(1.020,1)" font-size="15.00" text-anchor="end" fill="#000" stroke="#000" stroke-width="0.30" font-family="Liberation Sans, sans-serif" >40</text>
<text transform="translate(44.20,178.98) scale(1.020,1)" font-size="15.00" text-anchor="end" fill="#000" stroke="#000" stroke-width="0.30" font-family="Liberation Sans, sans-serif" >60</text>
<text transform="translate(44.20,150.00) scale(1.020,1)" font-size="15.00" text-anchor="end" fill="#000" stroke="#000" stroke-width="0.30" font-family="Liberation Sans, sans-serif" >80</text>
<text transform="translate(44.20,121.02) scale(1.020,1)" font-size="15.00" text-anchor="end" fill="#000" stroke="#000" stroke-width="0.30" font-family="Liberation Sans, sans-serif" >100</text>
<text transform="translate(44.20,92.04) scale(1.020,1)" font-size="15.00" text-anchor="end" fill="#000" stroke="#000" stroke-width="0.30" font-family="Liberation Sans, sans-serif" >120</text>
<text transform="translate(44.20,63.06) scale(1.020,1)" font-size="15.00" text-anchor="end" fill="#000" stroke="#000" stroke-width="0.30" font-family="Liberation Sans, sans-serif" >140</text>
<text transform="translate(44.20,34.08) scale(1.020,1)" font-size="15.00" text-anchor="end" fill="#000" stroke="#000" stroke-width="0.30" font-family="Liberation Sans, sans-serif" >160</text>
<text transform="translate(363.66,240.80) scale(1.020,1)" font-size="15.00" text-anchor="middle" fill="#000" stroke="#000" stroke-width="0.30" font-family="Liberation Sans, sans-serif" >0</text>
<text transform="translate(419.21,240.80) scale(1.020,1)" font-size="15.00" text-anchor="middle" fill="#000" stroke="#000" stroke-width="0.30" font-family="Liberation Sans, sans-serif" >500</text>
<text transform="translate(474.77,240.80) scale(1.020,1)" font-size="15.00" text-anchor="middle" fill="#000" stroke="#000" stroke-width="0.30" font-family="Liberation Sans, sans-serif" >1000</text>
<text transform="translate(530.32,240.80) scale(1.020,1)" font-size="15.00" text-anchor="middle" fill="#000" stroke="#000" stroke-width="0.30" font-family="Liberation Sans, sans-serif" >1500</text>
<text transform="translate(352.20,229.60) scale(1.020,1)" font-size="15.00" text-anchor="end" fill="#000" stroke="#000" stroke-width="0.30" font-family="Liberation Sans, sans-serif" >180</text>
<text transform="translate(352.20,193.47) scale(1.020,1)" font-size="15.00" text-anchor="end" fill="#000" stroke="#000" stroke-width="0.30" font-family="Liberation Sans, sans-serif" >190</text>
<text transform="translate(352.20,157.34) scale(1.020,1)" font-size="15.00" text-anchor="end" fill="#000" stroke="#000" stroke-width="0.30" font-family="Liberation Sans, sans-serif" >200</text>
<text transform="translate(352.20,121.21) scale(1.020,1)" font-size="15.00" text-anchor="end" fill="#000" stroke="#000" stroke-width="0.30" font-family="Liberation Sans, sans-serif" >210</text>
<text transform="translate(352.20,85.08) scale(1.020,1)" font-size="15.00" text-anchor="end" fill="#000" stroke="#000" stroke-width="0.30" font-family="Liberation Sans, sans-serif" >220</text>
<text transform="translate(352.20,48.95) scale(1.020,1)" font-size="15.00" text-anchor="end" fill="#000" stroke="#000" stroke-width="0.30" font-family="Liberation Sans, sans-serif" >230</text>
<text transform="translate(352.20,12.82) scale(1.020,1)" font-size="15.00" text-anchor="end" fill="#000" stroke="#000" stroke-width="0.30" font-family="Liberation Sans, sans-serif" >240</text>
<text transform="translate(563.40,229.60) scale(1.000,1)" font-size="15.00" text-anchor="start" fill="#ff0000" stroke="#ff0000" stroke-width="0.00" font-family="Liberation Sans, sans-serif" >0.0</text>
<text transform="translate(563.40,190.10) scale(1.000,1)" font-size="15.00" text-anchor="start" fill="#ff0000" stroke="#ff0000" stroke-width="0.00" font-family="Liberation Sans, sans-serif" >0.2</text>
<text transform="translate(563.40,150.60) scale(1.000,1)" font-size="15.00" text-anchor="start" fill="#ff0000" stroke="#ff0000" stroke-width="0.00" font-family="Liberation Sans, sans-serif" >0.4</text>
<text transform="translate(563.40,111.10) scale(1.000,1)" font-size="15.00" text-anchor="start" fill="#ff0000" stroke="#ff0000" stroke-width="0.00" font-family="Liberation Sans, sans-serif" >0.6</text>
<text transform="translate(563.40,71.60) scale(1.000,1)" font-size="15.00" text-anchor="start" fill="#ff0000" stroke="#ff0000" stroke-width="0.00" font-family="Liberation Sans, sans-serif" >0.8</text>
<text transform="translate(563.40,32.10) scale(1.000,1)" font-size="15.00" text-anchor="start" fill="#ff0000" stroke="#ff0000" stroke-width="0.00" font-family="Liberation Sans, sans-serif" >1.0</text>
<text transform="translate(163.60,255.50) scale(1.070,1)" font-size="14.20" text-anchor="middle" fill="#000" stroke="#000" stroke-width="0.30" font-family="Liberation Sans, sans-serif" >Temperature <tspan font-size="12.50" dy="-1.06">(</tspan><tspan font-size="14.20" dy="1.06">K</tspan><tspan font-size="12.50" dy="-1.06">)</tspan></text>
<text transform="translate(457.50,255.50) scale(1.040,1)" font-size="14.20" text-anchor="middle" fill="#000" stroke="#000" stroke-width="0.30" font-family="Liberation Sans, sans-serif" >Pressure <tspan font-size="12.50" dy="-1.06">(</tspan><tspan font-size="14.20" dy="1.06">b</tspan>ar<tspan font-size="12.50" dy="-1.06">)</tspan></text>
<text transform="translate(70.00,29.50) scale(1.100,1)" font-size="14.20" text-anchor="middle" fill="#000" stroke="#000" stroke-width="0.30" font-family="Liberation Sans, sans-serif" ><tspan font-size="12.50" dy="-1.06">(</tspan><tspan font-size="14.20" dy="1.06">a</tspan><tspan font-size="12.50" dy="-1.06">)</tspan></text>
<text transform="translate(377.50,29.50) scale(1.100,1)" font-size="14.20" text-anchor="middle" fill="#000" stroke="#000" stroke-width="0.30" font-family="Liberation Sans, sans-serif" ><tspan font-size="12.50" dy="-1.06">(</tspan><tspan font-size="14.20" dy="1.06">b</tspan><tspan font-size="12.50" dy="-1.06">)</tspan></text>
<text transform="translate(156.20,138.27) scale(1.030,1)" font-size="12.00" text-anchor="end" fill="#000" stroke="#000" stroke-width="0.30" font-family="Liberation Sans, sans-serif" >100</text>
<text transform="translate(156.20,111.81) scale(1.030,1)" font-size="12.00" text-anchor="end" fill="#000" stroke="#000" stroke-width="0.30" font-family="Liberation Sans, sans-serif" >200</text>
<text transform="translate(156.20,85.35) scale(1.030,1)" font-size="12.00" text-anchor="end" fill="#000" stroke="#000" stroke-width="0.30" font-family="Liberation Sans, sans-serif" >300</text>
<text transform="translate(156.20,58.89) scale(1.030,1)" font-size="12.00" text-anchor="end" fill="#000" stroke="#000" stroke-width="0.30" font-family="Liberation Sans, sans-serif" >400</text>
<text transform="translate(156.20,32.43) scale(1.030,1)" font-size="12.00" text-anchor="end" fill="#000" stroke="#000" stroke-width="0.30" font-family="Liberation Sans, sans-serif" >500</text>
<text transform="translate(161.50,161.50) scale(1.030,1)" font-size="12.00" text-anchor="middle" fill="#000" stroke="#000" stroke-width="0.30" font-family="Liberation Sans, sans-serif" >180</text>
<text transform="translate(216.40,161.50) scale(1.030,1)" font-size="12.00" text-anchor="middle" fill="#000" stroke="#000" stroke-width="0.30" font-family="Liberation Sans, sans-serif" >200</text>
<text transform="translate(271.30,161.50) scale(1.030,1)" font-size="12.00" text-anchor="middle" fill="#000" stroke="#000" stroke-width="0.30" font-family="Liberation Sans, sans-serif" >220</text>
<text transform="translate(216.00,173.60) scale(1.070,1)" font-size="12.00" text-anchor="middle" fill="#000" stroke="#000" stroke-width="0.12" font-family="Liberation Sans, sans-serif" >T <tspan font-size="10.56" dy="-0.90">(</tspan><tspan font-size="12.00" dy="0.90">K</tspan><tspan font-size="10.56" dy="-0.90">)</tspan></text>
<g transform="translate(13.70,165.80) rotate(-90)" fill="#000">
<text transform="translate(-0.30,-0.80) scale(1.000,1)" font-size="13.00" stroke="#000" stroke-width="0.2" font-family="Liberation Serif, serif" font-style="italic">κ</text>
<text transform="translate(7.20,2.00) scale(1.000,1)" font-size="11.00" stroke="#000" stroke-width="0.2" font-family="Liberation Serif, serif" font-style="italic">T</text>
<text transform="translate(20.50,-0.40) scale(1.000,1)" font-size="11.50" stroke="#000" stroke-width="0.2" font-family="Liberation Serif, serif">×</text>
<text transform="translate(26.80,0.00) scale(1.000,1)" font-size="14.50" stroke="#000" stroke-width="0.2" font-family="Liberation Serif, serif">10</text>
<text transform="translate(42.50,-5.30) scale(1.000,1)" font-size="10.20" stroke="#000" stroke-width="0.2" font-family="Liberation Serif, serif">6</text>
<text transform="translate(53.00,-0.30) scale(1.000,1)" font-size="15.00" stroke="#000" stroke-width="0.2" font-family="Liberation Sans, sans-serif">(bar</text>
<line x1="80.80" y1="-8.30" x2="87.20" y2="-8.30" stroke="#000" stroke-width="1.00"/>
<text transform="translate(88.60,-5.90) scale(1.000,1)" font-size="9.00" stroke="#000" stroke-width="0.2" font-family="Liberation Sans, sans-serif">1</text>
<text transform="translate(94.00,-1.80) scale(1.000,1)" font-size="15.00" stroke="#000" stroke-width="0.2" font-family="Liberation Sans, sans-serif">)</text>
</g>
<g transform="translate(130.90,122.10) rotate(-90)" fill="#000">
<text transform="translate(-0.30,0.00) scale(1.000,1)" font-size="10.50" stroke="#000" stroke-width="0.2" font-family="Liberation Serif, serif" font-style="italic">κ</text>
<text transform="translate(5.60,1.70) scale(1.000,1)" font-size="9.00" stroke="#000" stroke-width="0.2" font-family="Liberation Serif, serif" font-style="italic">T</text>
<text transform="translate(15.30,-0.30) scale(1.000,1)" font-size="9.80" stroke="#000" stroke-width="0.2" font-family="Liberation Serif, serif">×</text>
<text transform="translate(23.80,0.00) scale(1.000,1)" font-size="11.70" stroke="#000" stroke-width="0.2" font-family="Liberation Serif, serif">10</text>
<text transform="translate(34.40,-4.30) scale(1.000,1)" font-size="8.20" stroke="#000" stroke-width="0.2" font-family="Liberation Serif, serif">6</text>
<text transform="translate(42.80,0.00) scale(1.000,1)" font-size="11.00" stroke="#000" stroke-width="0.2" font-family="Liberation Sans, sans-serif">(bar</text>
<line x1="65.60" y1="-6.30" x2="71.30" y2="-6.30" stroke="#000" stroke-width="0.90"/>
<text transform="translate(71.90,-4.40) scale(1.000,1)" font-size="7.60" stroke="#000" stroke-width="0.2" font-family="Liberation Sans, sans-serif">1</text>
<text transform="translate(76.70,-1.00) scale(1.000,1)" font-size="11.00" stroke="#000" stroke-width="0.2" font-family="Liberation Sans, sans-serif">)</text>
</g>
<g transform="translate(321.20,136.50) rotate(-90)" fill="#000">
<text transform="translate(-0.50,0.00) scale(1.000,1)" font-size="15.50" stroke="#000" stroke-width="0.2" font-family="Liberation Serif, serif" font-style="italic">T</text>
<text transform="translate(8.00,2.70) scale(1.000,1)" font-size="10.50" stroke="#000" stroke-width="0.2" font-family="Liberation Serif, serif" font-style="italic">S</text>
<text transform="translate(20.20,0.00) scale(1.000,1)" font-size="14.20" stroke="#000" stroke-width="0.2" font-family="Liberation Sans, sans-serif">(K)</text>
</g>
<g transform="translate(595.00,120.80) rotate(-90)" fill="#ff0000">
<text transform="translate(0.00,0.00) scale(1.300,1)" font-size="12.50" stroke="#ff0000" stroke-width="0.2" font-family="Liberation Serif, serif" font-style="italic">γ</text>
</g>
</svg>
</body></html>
